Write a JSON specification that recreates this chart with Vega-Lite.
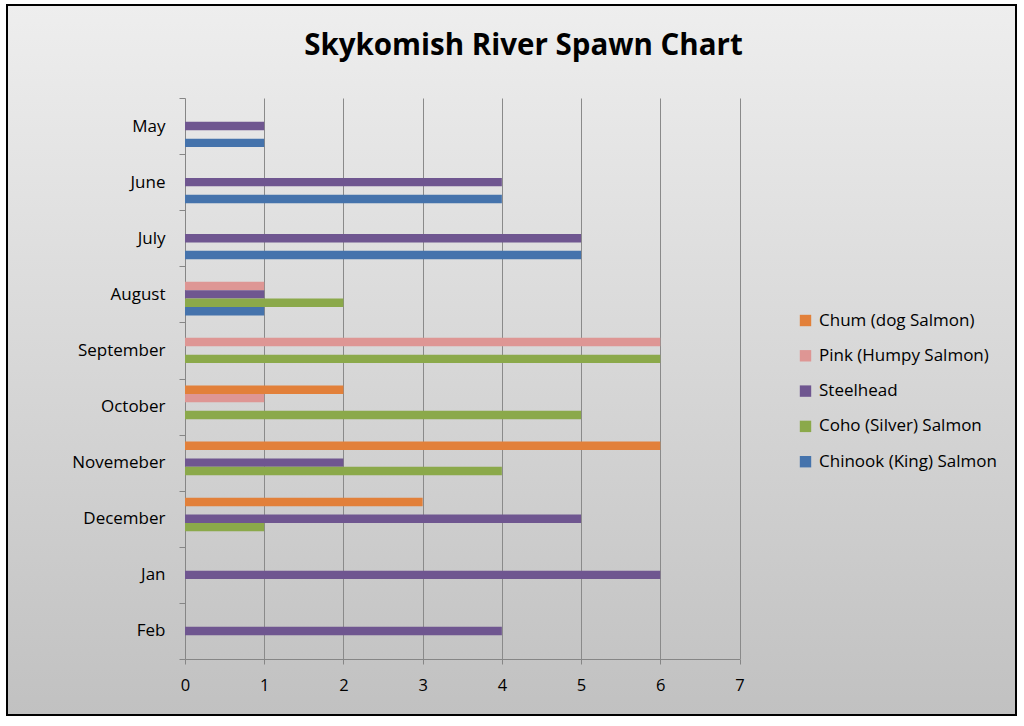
{
  "$schema": "https://vega.github.io/schema/vega-lite/v6.json",
  "width": 1009,
  "height": 710,
  "autosize": "none",
  "padding": {"left": 7, "top": 5, "right": 8, "bottom": 11},
  "background": "#ffffff",
  "title": {
    "text": "Skykomish River Spawn Chart",
    "font": "Open Sans",
    "fontSize": 29.5,
    "fontWeight": "bold",
    "color": "#000000",
    "anchor": "middle",
    "frame": "group",
    "offset": -65,
    "dx": 12
  },
  "data": {
    "values": [
      {"month": "May", "species": "Steelhead", "value": 1},
      {"month": "May", "species": "Chinook (King) Salmon", "value": 1},
      {"month": "June", "species": "Steelhead", "value": 4},
      {"month": "June", "species": "Chinook (King) Salmon", "value": 4},
      {"month": "July", "species": "Steelhead", "value": 5},
      {"month": "July", "species": "Chinook (King) Salmon", "value": 5},
      {"month": "August", "species": "Pink (Humpy Salmon)", "value": 1},
      {"month": "August", "species": "Steelhead", "value": 1},
      {"month": "August", "species": "Coho (Silver) Salmon", "value": 2},
      {"month": "August", "species": "Chinook (King) Salmon", "value": 1},
      {"month": "September", "species": "Pink (Humpy Salmon)", "value": 6},
      {"month": "September", "species": "Coho (Silver) Salmon", "value": 6},
      {"month": "October", "species": "Chum (dog Salmon)", "value": 2},
      {"month": "October", "species": "Pink (Humpy Salmon)", "value": 1},
      {"month": "October", "species": "Coho (Silver) Salmon", "value": 5},
      {"month": "Novemeber", "species": "Chum (dog Salmon)", "value": 6},
      {"month": "Novemeber", "species": "Steelhead", "value": 2},
      {"month": "Novemeber", "species": "Coho (Silver) Salmon", "value": 4},
      {"month": "December", "species": "Chum (dog Salmon)", "value": 3},
      {"month": "December", "species": "Steelhead", "value": 5},
      {"month": "December", "species": "Coho (Silver) Salmon", "value": 1},
      {"month": "Jan", "species": "Steelhead", "value": 6},
      {"month": "Feb", "species": "Steelhead", "value": 4}
    ]
  },
  "encoding": {
    "y": {
      "field": "month",
      "type": "nominal",
      "sort": ["May", "June", "July", "August", "September", "October", "Novemeber", "December", "Jan", "Feb"],
      "scale": {"range": [93, 654], "paddingInner": 0, "paddingOuter": 0},
      "axis": {
        "title": null,
        "offset": -178,
        "grid": false,
        "tickBand": "extent",
        "tickSize": 6,
        "tickColor": "#868686",
        "domainColor": "#868686",
        "labelPadding": 14,
        "labelFont": "Open Sans",
        "labelFontSize": 17,
        "labelColor": "#000000"
      }
    },
    "yOffset": {
      "field": "species",
      "type": "nominal",
      "sort": ["Chum (dog Salmon)", "Pink (Humpy Salmon)", "Steelhead", "Coho (Silver) Salmon", "Chinook (King) Salmon"],
      "scale": {"paddingInner": 0, "paddingOuter": 0.833}
    },
    "color": {
      "field": "species",
      "type": "nominal",
      "scale": {
        "domain": ["Chum (dog Salmon)", "Pink (Humpy Salmon)", "Steelhead", "Coho (Silver) Salmon", "Chinook (King) Salmon"],
        "range": ["#E2803A", "#DE9694", "#6F5690", "#8BA94A", "#4573AC"]
      },
      "legend": {
        "title": null,
        "orient": "none",
        "legendX": 790,
        "legendY": 307,
        "symbolType": "square",
        "symbolSize": 130,
        "symbolStrokeWidth": 0,
        "labelFont": "Open Sans",
        "labelFontSize": 17,
        "labelColor": "#000000",
        "labelLimit": 300,
        "labelOffset": 5,
        "rowPadding": 17.3
      }
    }
  },
  "layer": [
    {
      "mark": {"type": "bar", "opacity": 0},
      "encoding": {
        "x": {
          "field": "value",
          "type": "quantitative",
          "scale": {"domain": [0, 7], "range": [178, 732.5], "nice": false},
          "axis": {
            "orient": "top",
            "title": null,
            "values": [1, 2, 3, 4, 5, 6, 7],
            "grid": true,
            "gridColor": "#8a8a8a",
            "domain": false,
            "ticks": false,
            "labels": false
          }
        }
      }
    },
    {
      "mark": {"type": "bar"},
      "encoding": {
        "x": {
          "field": "value",
          "type": "quantitative",
          "scale": {"domain": [0, 7], "range": [178, 732.5], "nice": false},
          "axis": {
            "orient": "bottom",
            "title": null,
            "offset": -56,
            "values": [0, 1, 2, 3, 4, 5, 6, 7],
            "grid": false,
            "domainColor": "#868686",
            "tickColor": "#868686",
            "tickSize": 5,
            "labelPadding": 13,
            "labelFlush": false,
            "labelFont": "Open Sans",
            "labelFontSize": 16.5,
            "labelColor": "#000000"
          }
        }
      }
    }
  ],
  "resolve": {"axis": {"x": "independent"}},
  "config": {
    "view": {
      "stroke": "#000000",
      "strokeWidth": 2,
      "fill": {
        "gradient": "linear",
        "x1": 0, "y1": 0, "x2": 0, "y2": 1,
        "stops": [
          {"offset": 0, "color": "#eeeeee"},
          {"offset": 1, "color": "#c1c1c1"}
        ]
      }
    }
  }
}
